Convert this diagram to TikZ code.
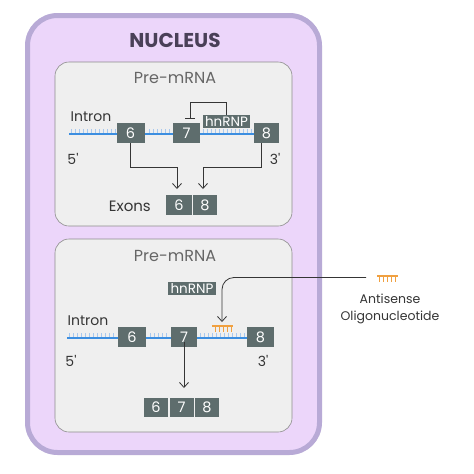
\documentclass[tikz,border=0pt]{standalone}
\usepackage{fontspec}
\setmainfont{Poppins}
\usetikzlibrary{arrows.meta}
\definecolor{nucfill}{HTML}{ECD6FA}
\definecolor{nucborder}{HTML}{B8AAD6}
\definecolor{panelfill}{HTML}{EFEFEF}
\definecolor{panelborder}{HTML}{8C8C8C}
\definecolor{boxfill}{HTML}{5E6D6D}
\definecolor{rnablue}{HTML}{3C8EE0}
\definecolor{tickblue}{HTML}{A8C8EE}
\definecolor{asocol}{HTML}{F0A040}
\definecolor{txt}{HTML}{353535}
\definecolor{titlecol}{HTML}{4A4058}
\definecolor{precol}{HTML}{666666}
\begin{document}
\begin{tikzpicture}[x=1pt,y=-1pt,
  exonbox/.style={fill=boxfill, text=white, font=\fontsize{14.5}{14.5}\selectfont,
    minimum height=20pt, inner sep=0pt},
  hnbox/.style={fill=boxfill, text=white, font=\fontsize{13.5}{13.5}\selectfont,
    minimum height=13pt, inner sep=0pt},
  lbl/.style={text=txt, font=\fontsize{14}{14}\selectfont, inner sep=0pt},
  prelbl/.style={text=precol, font=\fontsize{16}{16}\selectfont, inner sep=0pt},
  rna/.style={rnablue, line width=1.3pt},
  tick/.style={tickblue, line width=0.7pt},
  arr/.style={txt, line width=0.8pt, -{Straight Barb[length=5pt,width=9pt]}},
  aso/.style={asocol, line width=1.5pt},
  asotooth/.style={asocol, line width=0.7pt},
  panel/.style={draw=panelborder, fill=panelfill, line width=0.6pt, rounded corners=14pt}]
\useasboundingbox (0,0) rectangle (474,474);
\fill[white] (0,0) rectangle (474,474);
% nucleus
\draw[nucborder, fill=nucfill, line width=5pt, rounded corners=30pt] (27.5,15.5) rectangle (319.5,452.5);
\node[text=titlecol, font=\fontsize{20}{20}\selectfont\bfseries] (nuc) at (175,40) {NUCLEUS};
% panels
\draw[panel] (55,62) rectangle (292,226);
\draw[panel] (55,239) rectangle (292,432);

% ---------- top panel ----------
\node[prelbl] (pre1) at (175,78) {Pre-mRNA};
\draw[rna] (69,134) -- (256,134);
\foreach \x in {71,75,...,115} \draw[tick] (\x,129) -- (\x,133);
\foreach \x in {149,153,...,171} \draw[tick] (\x,129) -- (\x,133);
\foreach \x in {203,207,...,251} \draw[tick] (\x,129) -- (\x,133);
\node[exonbox, minimum width=28pt] (a6) at (130.5,133) {6};
\node[exonbox, minimum width=27pt] (a7) at (186.5,133) {7};
\node[exonbox, minimum width=25pt] (a8) at (266.5,133) {8};
\node[hnbox, minimum width=47pt] (hn1) at (226.5,121.5) {hnRNP};
\coordinate (bar1) at (190,118.5);
\draw[txt, line width=0.8pt, -{Bar[width=10pt,line width=0.8pt]}] (hn1.north) -- ++(0,-12.5) -| (bar1);
\node[lbl] (intron1) at (91,117) {Intron};
\node[lbl] (five1) at (73,159) {5\textquotesingle};
\node[lbl] (three1) at (275,159) {3\textquotesingle};
\node[lbl, anchor=east, font=\fontsize{15}{15}\selectfont] (exons) at (151,206) {Exons};
\node[exonbox, minimum width=26pt] (b6) at (179,205) {6};
\node[exonbox, minimum width=24pt] (b8) at (205,205) {8};
\coordinate (t1) at (177,189);
\coordinate (t2) at (203,189);
\draw[arr] (a6.south) -- ++(0,24) -| (t1);
\draw[arr] ([xshift=-5pt]a8.south) -- ++(0,24) -| (t2);

% ---------- bottom panel ----------
\node[prelbl] (pre2) at (175,256) {Pre-mRNA};
\node[hnbox, minimum width=48pt] (hn2) at (192,288.5) {hnRNP};
\draw[rna] (67,338) -- (249,338);
\foreach \x in {69,73,...,115} \draw[tick] (\x,333) -- (\x,337);
\foreach \x in {150,154,...,169} \draw[tick] (\x,333) -- (\x,337);
\foreach \x in {200,204,...,245} \draw[tick] (\x,333) -- (\x,337);
\node[exonbox, minimum width=28pt] (c6) at (132,337) {6};
\node[exonbox, minimum width=26pt] (c7) at (184,337) {7};
\node[exonbox, minimum width=27pt] (c8) at (260.5,337) {8};
\node[lbl] (intron2) at (88,321) {Intron};
\node[lbl] (five2) at (71,361) {5\textquotesingle};
\node[lbl] (three2) at (263,361) {3\textquotesingle};
% bound antisense oligo
\draw[aso] (212,326) -- (233,326);
\foreach \x in {215,219,...,231} \draw[asotooth] (\x,326) -- (\x,332);
% skipping-corrected product
\coordinate (t4) at (184,388);
\draw[arr] ([yshift=5pt]c7.south) -- (t4);
\node[exonbox, minimum width=24pt, minimum height=19pt] (d6) at (156,407.5) {6};
\node[exonbox, minimum width=24pt, minimum height=19pt] (d7) at (181.5,407.5) {7};
\node[exonbox, minimum width=24pt, minimum height=19pt] (d8) at (207,407.5) {8};

% ---------- antisense oligonucleotide (outside) ----------
\draw[aso] (377,276) -- (398,276);
\foreach \x in {379,383,...,396} \draw[asotooth] (\x,276) -- (\x,282);
\coordinate (asostart) at (366,277.5);
\coordinate (t3) at (222,322);
\draw[arr, rounded corners=12pt] (asostart) -| (t3);
\node[lbl, align=center, font=\fontsize{12.5}{17}\selectfont] (asolbl) at (390,309) {Antisense\\Oligonucleotide};
\end{tikzpicture}
\end{document}
